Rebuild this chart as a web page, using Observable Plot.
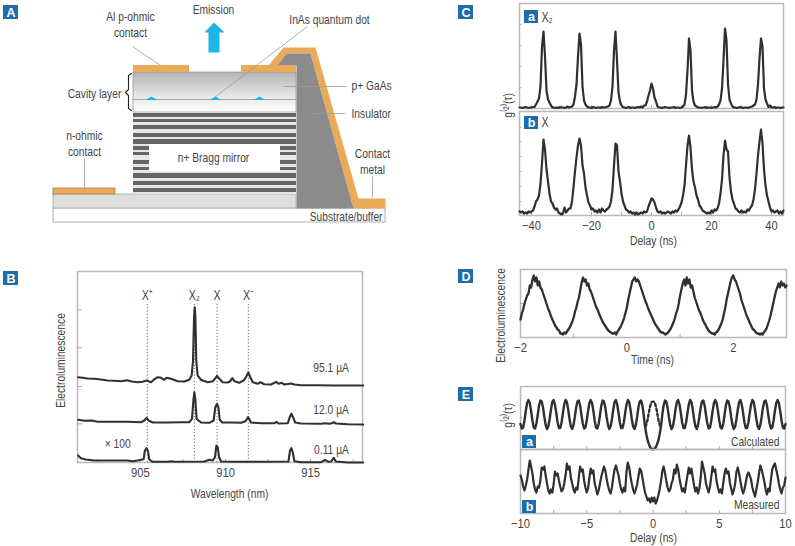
<!DOCTYPE html>
<html><head><meta charset="utf-8">
<script src="https://cdn.jsdelivr.net/npm/d3@7"></script>
<script src="https://cdn.jsdelivr.net/npm/@observablehq/plot@0.6"></script>
<style>
html,body{margin:0;padding:0;background:#fff}
#page{position:relative;width:795px;height:546px;overflow:hidden}
#page svg{position:absolute;background:transparent;overflow:visible}
</style></head><body><div id="page"></div>
<script>
// ---------- Panel B: spectra (wavelength nm, intensity a.u.)
const specHighX=[901.34,901.60,901.89,902.28,902.68,903.07,903.46,903.85,904.21,904.48,904.83,905.13,905.36,905.62,905.85,906.01,906.21,906.40,906.54,906.79,907.19,907.58,907.87,908.01,908.09,908.15,908.19,908.23,908.28,908.36,908.56,908.95,909.25,909.38,909.50,909.64,909.83,910.13,910.28,910.40,910.52,910.81,911.11,911.25,911.34,911.44,911.60,911.89,912.05,912.28,912.68,912.97,913.11,913.30,913.46,913.85,914.05,914.44,915.42,916.40,917.19,918.09];
const specHighY=[85.3,84.7,84,83.7,83,82,81.7,81.3,82.3,81,80.3,80.7,82,80.3,83.7,85.3,84.7,82.7,84.7,83.7,81.3,81,82.7,87,102,145.3,155.3,145.3,102,87,82.7,80.3,81.3,83.7,86.7,83.7,80.3,80,81.3,84.3,81.3,79.7,82.7,87,90,86,80.3,78.7,80.3,78.3,78,80.7,78.7,79.7,78,79,78,77.3,77.3,77,77,77];
const specMidX=[901.34,901.70,902.13,902.48,903.26,904.25,905.03,905.23,905.36,905.50,905.72,906.60,907.38,907.87,908.03,908.11,908.17,908.23,908.30,908.46,908.56,909.05,909.30,909.40,909.50,909.58,909.66,909.81,910.32,910.91,911.17,911.26,911.32,911.40,911.50,912.09,912.87,912.99,913.11,913.66,913.77,913.87,913.97,914.09,914.44,915.62,915.85,916.11,916.25,916.36,916.48,917.19,918.09];
const specMidY=[42.7,41.7,42,40.7,40.7,40.7,40.3,42,44.7,41.7,40,40,40.3,40.3,43.7,62,70.3,62,43.7,41.3,40,39.7,42,55.3,58.7,55.3,42.7,40,40,39.7,41.3,43.3,45.3,43.3,40,39.3,39.3,40.7,39,39.3,45.3,48.7,45.3,40,39,38.7,39.3,38.7,39.3,40.3,39,38.3,38];
const specLowX=[901.34,901.50,901.79,902.28,903.07,903.66,904.25,904.54,904.83,905.03,905.19,905.26,905.36,905.44,905.52,905.72,906.60,906.83,906.99,908.75,909.05,909.25,909.38,909.46,909.54,909.62,909.74,910.52,911.70,912.28,913.70,913.79,913.87,913.95,914.05,914.44,915.62,915.85,916.05,916.21,916.36,916.48,917.19,918.09];
const specLowY=[7,4.3,3,2,2,2,2,1.3,2,2.7,3.3,12,14.3,11.3,3,0.7,0.7,1.3,0.7,1,2.7,2,5.3,17,15.3,5.3,1,0.7,0.7,0.7,1,12,14.3,10.3,1.3,0.3,0.3,2.7,0.7,1,4.7,1,0,0];
const lineNames=["X⁺","X₂","X","X⁻"];
const lineWavelengths=[905.4,908.17,909.5,911.34];
const currentLabels=["95.1 µA","12.0 µA","0.11 µA"];
const currentLevels=[95,53,13];

// ---------- Panel C: g2 vs delay, delay -44..44 in 0.5 ns steps (10 values per 5 ns)
const g2X2=[
1,1,.5,1,1.5,1,.5,1,1,1.5,
1.5,4,7,10,22,62,77,52,18,9,
6,3,1,1,.5,1,.5,1.5,1,1,
.5,1,2,1,1.5,2,4,12,24,52,
75,64,22,8,4,2,1,1,.5,1.5,
1,.5,1,1,.5,1.5,1,1,1.5,2,
3,8,22,58,77,48,16,7,3,1.5,
1,.5,1,1.5,.5,1,1,.5,1,1.5,
1,2,1,3,3,7,13,18,25,20,
11,7,2,1,1,.5,1,1.5,1,1,
.5,1,1,1.5,.5,1,1,.5,1,2,
4,14,38,70,58,18,7,3,2,1,
1,.5,1,1,1.5,.5,1,1,.5,1,
1.5,1,2,4,8,20,48,80,68,24,
9,5,2,1,1,.5,1,1.5,1,.5,
1,1,.5,1,1.5,2,3,4,9,24,
50,70,62,20,9,5,1.5,3,1,1,
1.5,.5,1,1,.5,1,1];
const g2X=[
4,3,4,2,3,2,4,3,4,5,
9,14,16,20,32,52,76,66,46,34,
22,14,12,8,6,7,3,2,1,2,
8,3,5,7,7,14,28,44,58,70,
77,70,50,42,28,20,13,10,6,7,
4,5,3,6,3,7,5,4,6,7,
9,14,26,50,72,70,44,34,22,14,
10,6,5,3,4,2,3,1,3,1,
2,3,2,4,3,4,9,13,17,16,
13,8,4,3,4,2,3,2,3,4,
3,2,4,3,5,4,6,9,13,20,
30,50,70,80,68,46,34,28,20,16,
10,8,5,4,3,2,3,2,5,3,
6,5,7,12,22,36,60,75,66,64,
38,24,16,12,7,6,4,3,5,3,
4,3,6,5,8,10,16,26,42,60,
74,86,72,46,30,20,14,8,4,5,
3,4,5,2,4,2,5];

// ---------- Panel D: electroluminescence vs time, -2..3 ns in 0.025 ns steps
const elTime=[
18,24,28,34,38,42,44,52,50,58,
62,56,60,52,56,50,48,44,40,36,
32,28,25,21,18,15,12,10,8,7,
4,4,3,5,4,6,8,10,13,16,
20,26,30,36,40,48,55,60,56,58,
52,54,48,46,42,38,34,30,28,24,
21,18,15,13,11,9,7,6,5,4,
4,5,3,6,8,10,13,16,20,25,
30,38,44,50,56,58,60,56,58,56,
52,48,44,40,36,33,29,26,23,20,
17,14,12,10,8,6,5,5,4,3,
4,5,7,9,12,15,19,24,28,34,
42,48,54,58,52,60,54,58,50,52,
46,40,36,32,28,25,22,18,15,13,
10,8,6,5,4,4,3,5,6,8,
11,14,18,24,30,38,44,50,56,60,
62,58,56,52,48,44,38,34,30,26,
22,19,16,13,10,8,7,5,4,4,
3,4,3,5,7,9,13,17,22,28,
34,40,46,50,54,50,56,52,54,50,
52];

// ---------- Panel E: g2 vs delay, -10..10 ns in 0.1 ns steps
const g2Calc=[
25.5,21,22,29,38.5,46.5,49.5,46.5,38.5,29,
22,21,26,34.5,44,49,48,42,32.5,24.5,
20.5,23,30.5,40,47.5,49.5,45,36.5,27,21.5,
21.5,27,36.5,45,49.5,47.5,40,30.5,23,20.5,
24.5,32.5,42,48,49,44,34.5,26,21,22,
29,38.5,46.5,49.5,46.5,38.5,29,22,21,25.5,
34.5,44,49,48,42,32.5,24.5,20.5,23,30.5,
40,47.5,49.5,45,36.5,27,21.5,21.5,27,36.5,
45,49.5,47.5,40,30.5,23,20.5,24.5,32.5,42,
48,49,44,34.5,23,15,9,5,2,.5,
0,
.5,2,5,9,15,23,34.5,44,49,48,
42,32.5,24.5,20.5,23,30.5,40,47.5,49.5,45,
36.5,27,21.5,21.5,27,36.5,45,49.5,47.5,40,
30.5,23,20.5,24.5,32.5,42,48,49,44,34.5,
26,21,22,29,38.5,46.5,49.5,46.5,38.5,29,
22,21,25.5,34.5,44,49,48,42,32.5,24.5,
20.5,23,30.5,40,47.5,49.5,45,36.5,27,21.5,
21.5,27,36.5,45,49.5,47.5,40,30.5,23,20.5,
24.5,32.5,42,48,49,44,34.5,26,21,22,
29,38.5,46.5,49.5,46.5,38.5,29,22,21,25.5];
const bumpDelay=[-.55,-.4,-.3,-.2,-.1,0,.1,.2,.3,.4,.55];
const bumpValue=[23,30,38,44,47.5,48,47.5,44,38,30,23];
const g2Meas=[
38,34,27,23,28,34,44,53,47,40,
30,24,21,27,26,33,46,44,47,38,
30,23,20,24,21,29,42,38,40,33,
27,22,24,30,38,50,44,47,36,30,
24,21,26,24,36,47,42,44,33,26,
21,25,36,45,40,43,30,25,19,23,
30,37,42,47,43,35,28,23,20,26,
36,44,48,43,38,30,24,21,26,22,
42,51,46,37,30,24,20,24,29,37,
45,43,36,28,21,17,13,15,11,16,
12,16,10,13,18,24,32,42,47,41,
33,26,22,24,30,34,44,40,49,44,
35,28,22,25,21,30,38,46,40,45,
36,28,22,26,20,25,36,52,46,40,
30,25,21,27,37,47,42,44,32,26,
21,24,20,30,40,45,40,42,31,25,
19,23,30,42,46,40,32,25,20,24,
31,38,41,38,34,26,21,17,24,31,
40,48,44,38,32,24,19,25,22,34,
44,48,50,44,38,30,24,20,26,28,
36];

// ---------- Panel A: schematic layers in drawing units
const braggTop=[113,119,125,133,139,146,152,160,167,173,181,188];
const braggBottom=[117,122,129,137,144,150,155,164,170,178,185,192];
const dotCentres=[151,215,259];

// ---------- style
const FONT='"Liberation Sans",sans-serif';
const INK="#444", TRACE="#303030", FRAME="#b8b8b8", TICK="#999";
const ORANGE="#e9ab58", BLUE="#1b6dab", CYAN="#1fb4e6", STEEL="#8b8b8b";
const page=document.getElementById("page");

function panel(frame,dx,dy,marks,m={}){
  const ml=m.l??4,mr=m.r??4,mt=m.t??4,mb=m.b??4;
  const p=Plot.plot({
    width:frame.w+ml+mr,height:frame.h+mt+mb,
    marginLeft:ml,marginRight:mr,marginTop:mt,marginBottom:mb,
    x:{domain:dx},y:{domain:dy,axis:null},
    style:{fontFamily:FONT,fontSize:"13px",color:INK,background:"transparent"},
    marks:[Plot.frame({stroke:FRAME,strokeWidth:1.5}),...marks]
  });
  p.style.left=(frame.x-ml)+"px";p.style.top=(frame.y-mt)+"px";
  page.appendChild(p);return p;
}
const noX=()=>Plot.axisX({ticks:[],tickSize:0,label:null});
const xAxis=(ticks)=>Plot.axisX({ticks,tickSize:0,tickPadding:5,tickFormat:d3.format("d"),label:null,fontSize:13,fill:INK});
const inX=(v,len=3)=>Plot.ruleX(v,{y1:0,y2:len,stroke:TICK,strokeWidth:.8});
const inY=(v,x0,x1)=>Plot.ruleY(v,{x1:x0,x2:x1,stroke:TICK,strokeWidth:.8});
const trace=(vals,start,step,w=2.2,extra={})=>Plot.line(vals,{x:(d,i)=>start+step*i,y:d=>d,stroke:TRACE,strokeWidth:w,...extra});
const pair=(xs,ys,w=2.1)=>Plot.line(xs,{x:d=>d,y:(d,i)=>ys[i],stroke:TRACE,strokeWidth:w});

// ---------- Panel B
panel({x:77,y:271,w:285,h:191},[901.3,918.05],[0,191],[
  noX(),xAxis([905,910,915]),
  inX([902.5,905,907.5,910,912.5,915,917.5]),
  inY([152.7,114.7,76,38.7],901.3,901.6),
  Plot.ruleX(lineWavelengths,{y1:0,y2:160,stroke:"#555",strokeWidth:.9,strokeDasharray:"1.2 2"}),
  pair(specHighX,specHighY),pair(specMidX,specMidY),pair(specLowX,specLowY),
  Plot.text(lineNames,{x:lineWavelengths,y:[167,167,167,167],text:d=>d,fontSize:14,fill:INK}),
  Plot.text(currentLabels,{x:[917.25,917.25,917.25],y:[95,53,13],text:d=>d,textAnchor:"end",fontSize:13.5,fill:INK}),
  Plot.text(["× 100"],{x:[902.9],y:[19],text:d=>d,textAnchor:"start",fontSize:13.5,fill:INK})
],{b:24});

// ---------- Panel C
panel({x:519,y:3,w:264,h:105},[-44,44],[0,105],[
  noX(),inX([-40,-30,-20,-10,0,10,20,30,40]),
  inY([84,63,42,20.7],-44,-43.2),trace(g2X2,-44,.5)
]);
panel({x:519,y:111,w:264,h:104},[-44,44],[0,104],[
  xAxis([-40,-20,0,20,40]),inX([-40,-30,-20,-10,0,10,20,30,40]),
  inY([88,74,59,44,29,14],-44,-43.2),trace(g2X,-44,.5)
],{b:24});

// ---------- Panel D
panel({x:520,y:269,w:266,h:68},[-2,3],[0,68],[
  xAxis([-2,0,2]),inX([-1,1]),inY([34],-2,-1.95),trace(elTime,-2,.025,2.3)
],{b:24});

// ---------- Panel E
panel({x:520,y:386,w:265,h:63},[-10,10],[0,63],[
  noX(),inX([-7.5,-5,-2.5,0,2.5,5,7.5]),inY([32],-10,-9.85),
  trace(g2Calc,-10,.1,2.4),
  Plot.line(bumpDelay,{x:d=>d,y:(d,i)=>bumpValue[i],stroke:TRACE,strokeWidth:2.4,strokeDasharray:"2.5 2.5"})
]);
panel({x:520,y:449,w:265,h:64},[-10,10],[0,64],[
  xAxis([-10,-5,0,5,10]),inX([-7.5,-5,-2.5,0,2.5,5,7.5]),trace(g2Meas,-10,.1,2.2)
],{b:24});

// ---------- Overlay: schematic A, panel badges, free labels (drawing units)
const poly=(xs,ys,fill,extra={})=>Plot.line(xs,{x:d=>d,y:(d,i)=>ys[i],fill,stroke:"none",...extra});
const box=(x1,x2,y1,y2,fill,stroke="none")=>Plot.rect([0],{x1:[x1],x2:[x2],y1:[y1],y2:[y2],fill,stroke,strokeWidth:.8});
const leader=(x1,y1,x2,y2)=>Plot.link([0],{x1:[x1],y1:[y1],x2:[x2],y2:[y2],stroke:"#9a9a9a",strokeWidth:.8});
const badgeNames=["A","B","C","D","E"];
const badgeX=[3,3,458,458,458], badgeY=[5,271,5,269,387];
const subNames=["a","b","a","b"];
const subX=[524,524,522,522], subY=[10,116,435,500];
const labelText=["Al p-ohmic\ncontact","Emission","InAs quantum dot","Cavity layer","n-ohmic\ncontact","Contact\nmetal","n+ Bragg mirror","Wavelength (nm)","Delay (ns)","Time (ns)","Delay (ns)"];
const labelX=[130,213,329,94,84,372,213,229,653,652,653];
const labelY=[23.5,9,19,93,142.5,160.5,157,493,240,359,537];
const FS=13.5;

const overlay=Plot.plot({
  width:795,height:546,margin:0,
  x:{domain:[0,795],axis:null},y:{domain:[0,546],reverse:true,axis:null},
  style:{fontFamily:FONT,fontSize:"13px",background:"transparent"},
  marks:[
    box(53,385,208,222,"#fff","#9c9c9c"),
    box(53,296,194,208,"#dedede","#a8a8a8"),
    box(53,115,188,194,ORANGE,"#a8823f"),
    box(133,296,113,194,"#e6e6e6"),
    Plot.rect(braggTop,{x1:133,x2:296,y1:d=>d,y2:(d,i)=>braggBottom[i],fill:"#666"}),
    box(149,280,144,171,"#fff"),
    box(133,296,72,99.5,"url(#cavTop)","#9a9a9a"),
    box(133,296,99.5,112,"url(#cavBot)","#9a9a9a"),
    poly([268,283,315,358,385,385,353,310,286,277],[65,47,47,198,198,208,208,53,53,65],ORANGE),
    poly([277,286,310,353,296,296],[65,53,53,208,208,65],STEEL),
    box(133,189,65,72,ORANGE),box(241,296,65,72,ORANGE),
    ...dotCentres.map(c=>poly([c-6,c,c+6],[99.5,96,99.5],CYAN)),
    poly([204,213.5,224,219,219,208,208],[32,22,32,32,52,52,32],CYAN),
    Plot.line([131,128,128,125,128,128,131],{x:d=>d,y:(d,i)=>[73,75,89,92,95,108,110][i],stroke:"#222",strokeWidth:1.1}),
    leader(132,46,160,65),leader(307,26,214,97),leader(346,86,283,86),leader(345,113,312,113),leader(84,158,84,187),leader(372,176,372,197),
    Plot.text(labelText,{x:labelX,y:labelY,text:d=>d,fontSize:FS,lineHeight:1.13,fill:INK}),
    Plot.text(["p+ GaAs","Insulator"],{x:[351,351],y:[85,113],text:d=>d,textAnchor:"start",fontSize:FS,fill:INK}),
    Plot.text(["Substrate/buffer"],{x:[382],y:[216],text:d=>d,textAnchor:"end",fontSize:FS,fill:INK}),
    Plot.text(["Calculated","Measured"],{x:[779,779],y:[441,504],text:d=>d,textAnchor:"end",fontSize:FS,fill:INK}),
    Plot.text(["Electroluminescence"],{x:[60],y:[360],text:d=>d,rotate:-90,fontSize:FS,fill:INK}),
    Plot.text(["Electroluminescence"],{x:[500],y:[315],text:d=>d,rotate:-90,fontSize:FS,fill:INK}),
    Plot.text(["g⁽²⁾(τ)","g⁽²⁾(τ)"],{x:[507,507],y:[105,415],text:d=>d,rotate:-90,fontSize:FS,fill:INK}),
    Plot.rect(badgeNames,{x1:badgeX,x2:badgeX.map(v=>v+15),y1:badgeY,y2:badgeY.map(v=>v+14),fill:BLUE}),
    Plot.text(badgeNames,{x:badgeX.map(v=>v+7.5),y:badgeY.map(v=>v+7),text:d=>d,fill:"#fff",fontWeight:"bold",fontSize:12.5}),
    Plot.rect(subNames,{x1:subX,x2:subX.map(v=>v+14),y1:subY,y2:subY.map(v=>v+13),fill:BLUE}),
    Plot.text(subNames,{x:subX.map(v=>v+7),y:subY.map(v=>v+6.5),text:d=>d,fill:"#fff",fontWeight:"bold",fontSize:12.5}),
    Plot.text(["X₂","X"],{x:[541,541],y:[17,122],text:d=>d,textAnchor:"start",fontSize:14,fill:INK})
  ]
});
overlay.style.left="0";overlay.style.top="0";
d3.select(overlay).insert("defs",":first-child").html(
 '<linearGradient id="cavTop" x1="0" y1="0" x2="0" y2="1"><stop offset="0" stop-color="#b2b2b2"/><stop offset="1" stop-color="#efefef"/></linearGradient>'+
 '<linearGradient id="cavBot" x1="0" y1="0" x2="0" y2="1"><stop offset="0" stop-color="#ececec"/><stop offset="1" stop-color="#fff"/></linearGradient>');
page.appendChild(overlay);

// The reference sets its text in a condensed face: narrow the installed one to the same widths.
document.querySelectorAll("#page text").forEach(t=>{
  if(t.parentNode.getAttribute("fill")==="#fff"||t.getAttribute("fill")==="#fff") return;
  const ratio=(t.parentNode.getAttribute("aria-label")||"").includes("tick label")?0.86:0.76;
  const spans=t.querySelectorAll("tspan");
  (spans.length?[...spans]:[t]).forEach(n=>{
    const len=n.getComputedTextLength();
    n.setAttribute("textLength",(len*ratio).toFixed(1));
    n.setAttribute("lengthAdjust","spacingAndGlyphs");
  });
});
</script></body></html>
